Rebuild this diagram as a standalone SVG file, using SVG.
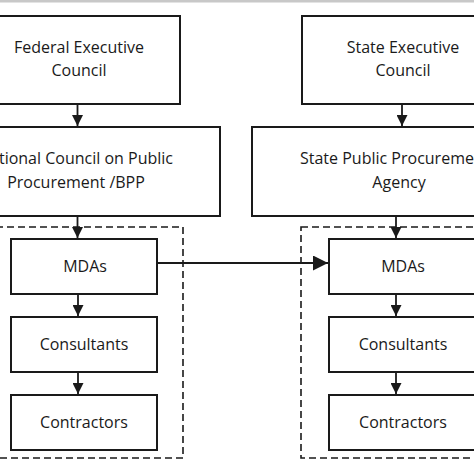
<svg xmlns="http://www.w3.org/2000/svg" width="474" height="474" viewBox="0 0 474 474">
<style>
.box{fill:#fff;stroke:#1a1a1a;stroke-width:2}
.grp{fill:none;stroke:#1a1a1a;stroke-width:1.6;stroke-dasharray:7 4}
.lbl{font-family:"Open Sans","Liberation Sans",sans-serif;font-size:16px;fill:#1a1a1a;text-anchor:middle}
.conn{fill:none;stroke:#1a1a1a;stroke-width:1.8}
</style>
<defs>
<marker id="ah" viewBox="0 0 10 10" refX="10" refY="5" markerUnits="userSpaceOnUse" markerWidth="11" markerHeight="11" orient="auto">
<path d="M0,0 L10,5 L0,10 z" fill="#1a1a1a"/>
</marker>
<marker id="ahb" viewBox="0 0 10 10" refX="10" refY="5" markerUnits="userSpaceOnUse" markerWidth="15" markerHeight="15" orient="auto">
<path d="M0,0 L10,5 L0,10 z" fill="#1a1a1a"/>
</marker>
</defs>
<rect x="0" y="0" width="474" height="474" fill="#fff"/>
<rect x="0" y="0" width="474" height="2.5" fill="#c8c8c8"/>

<g id="federal-group"><rect class="grp" x="-15" y="227" width="198" height="231"/></g>
<g id="state-group"><rect class="grp" x="301" y="227" width="200" height="231"/></g>

<g id="federal-executive-council">
<rect class="box" x="-25" y="16" width="205" height="88"/>
<text class="lbl" x="79" y="53">Federal Executive</text>
<text class="lbl" x="79" y="76">Council</text>
</g>
<g id="national-council">
<rect class="box" x="-66" y="127" width="286" height="89"/>
<text class="lbl" x="173" y="164" style="text-anchor:end">tional Council on Public</text>
<text class="lbl" x="76" y="188">Procurement /BPP</text>
</g>
<g id="state-executive-council">
<rect class="box" x="302" y="16" width="200" height="88"/>
<text class="lbl" x="403" y="53">State Executive</text>
<text class="lbl" x="403" y="76">Council</text>
</g>
<g id="state-ppa">
<rect class="box" x="252" y="127" width="300" height="89"/>
<text class="lbl" x="300" y="164" style="text-anchor:start">State Public Procureme</text>
<text class="lbl" x="399" y="188">Agency</text>
</g>

<g id="fed-mdas"><rect class="box" x="11" y="239" width="146" height="55"/><text class="lbl" x="85" y="272">MDAs</text></g>
<g id="fed-consultants"><rect class="box" x="11" y="317" width="146" height="55"/><text class="lbl" x="84" y="350">Consultants</text></g>
<g id="fed-contractors"><rect class="box" x="11" y="395" width="146" height="55"/><text class="lbl" x="84" y="428">Contractors</text></g>

<g id="state-mdas"><rect class="box" x="329" y="239" width="146" height="55"/><text class="lbl" x="403" y="272">MDAs</text></g>
<g id="state-consultants"><rect class="box" x="329" y="317" width="146" height="55"/><text class="lbl" x="403" y="350">Consultants</text></g>
<g id="state-contractors"><rect class="box" x="329" y="395" width="146" height="55"/><text class="lbl" x="403" y="428">Contractors</text></g>

<g id="connectors">
<path class="conn" d="M77.5,105 V126" marker-end="url(#ah)"/>
<path class="conn" d="M77.5,217 V238" marker-end="url(#ah)"/>
<path class="conn" d="M78,295 V316" marker-end="url(#ah)"/>
<path class="conn" d="M78,373 V394" marker-end="url(#ah)"/>
<path class="conn" d="M402,105 V126" marker-end="url(#ah)"/>
<path class="conn" d="M396,217 V238" marker-end="url(#ah)"/>
<path class="conn" d="M396,295 V316" marker-end="url(#ah)"/>
<path class="conn" d="M396,373 V394" marker-end="url(#ah)"/>
<path class="conn" d="M158,263 H328" marker-end="url(#ahb)"/>
</g>
</svg>
